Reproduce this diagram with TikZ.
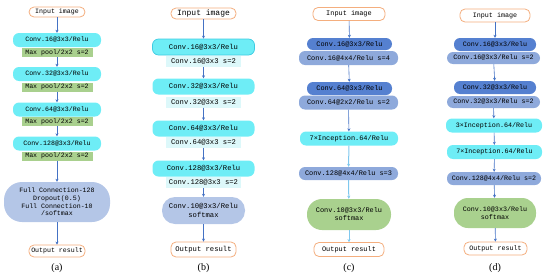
\documentclass[tikz,border=0pt]{standalone}
\usepackage{fontspec}
\setmainfont{Liberation Serif}
\setmonofont{Liberation Mono}
\usetikzlibrary{arrows.meta}
\definecolor{nnCyan}{HTML}{6EEDF6}
\definecolor{nnCyanDk}{HTML}{3CCBE2}
\definecolor{nnCyanLt}{HTML}{DDF8FA}
\definecolor{nnPool}{HTML}{A9D08E}
\definecolor{nnLav}{HTML}{B4C6E7}
\definecolor{nnBlueDk}{HTML}{5580D0}
\definecolor{nnBlueMd}{HTML}{8EA9DB}
\definecolor{nnGreen}{HTML}{A9D18E}
\definecolor{nnOrange}{HTML}{F4AE7E}
\definecolor{nnArrow}{HTML}{4472C4}
\definecolor{nnArrowLt}{HTML}{7FC8EE}

\begin{document}
\begin{tikzpicture}[x=1pt, y=-1pt,
  every node/.style={inner sep=0pt, align=center, font=\ttfamily\fontsize{6.6}{7.6}\selectfont},
  io/.style={draw=nnOrange, line width=0.8pt, fill=white, rounded corners=5pt},
  conv/.style={fill=nnCyan, rounded corners=6pt, minimum height=14pt},
  pool/.style={fill=nnPool, minimum height=9pt},
  stride/.style={fill=nnCyanLt, minimum height=11pt},
  dconv/.style={fill=nnBlueDk, rounded corners=6pt, minimum height=13pt},
  mconv/.style={fill=nnBlueMd, rounded corners=6pt, minimum height=13pt},
  head/.style={rounded corners=13pt},
  flow/.style={-{Stealth[length=3pt,width=3pt]}, draw=nnArrow, line width=0.6pt},
  flowlt/.style={-{Stealth[length=3pt,width=3pt]}, draw=nnArrowLt, line width=1pt},
  tag/.style={font=\rmfamily\fontsize{10}{12}\selectfont},
]
\useasboundingbox (0,0) rectangle (550,279);
% ---- (a) ----
\node[io, minimum width=56, minimum height=10] (a-in) at (57,12){Input image};
\node[conv, minimum width=88] (a-c1) at (57,40){Conv.16@3x3/Relu};
\node[pool, minimum width=71] (a-p1) at (57,52.5){Max pool/2x2 s=2};
\node[conv, minimum width=88] (a-c2) at (57,74){Conv.32@3x3/Relu};
\node[pool, minimum width=71] (a-p2) at (57,87){Max pool/2x2 s=2};
\node[conv, minimum width=88] (a-c3) at (57,109.5){Conv.64@3x3/Relu};
\node[pool, minimum width=71] (a-p3) at (57,121.5){Max pool/2x2 s=2};
\node[conv, minimum width=88] (a-c4) at (57,143.5){Conv.128@3x3/Relu};
\node[pool, minimum width=71] (a-p4) at (57,156){Max pool/2x2 s=2};
\node[fill=nnLav, rounded corners=18pt, minimum width=106, minimum height=40] (a-fc) at (57,202)
  {Full Connection-128\\Dropout(0.5)\\Full Connection-10\\/softmax};
\node[io, minimum width=56, minimum height=12] (a-out) at (57,251){Output result};
\node[tag] (a-tag) at (57,268){(a)};
\foreach \s/\t in {in/c1, p1/c2, p2/c3, p3/c4, p4/fc, fc/out}
  \draw[flow] (a-\s) -- (a-\t);
% ---- (b) ----
\begin{scope}[every node/.append style={font=\ttfamily\fontsize{7.2}{8.4}\selectfont}]
\node[io, minimum width=65, minimum height=11, font=\ttfamily\fontsize{8}{9}\selectfont] (b-in) at (203.5,13.5){Input image};
\node[conv, draw=nnCyanDk, line width=0.7pt, minimum width=102, minimum height=16] (b-c1) at (203.5,47){Conv.16@3x3/Relu};
\node[stride, minimum width=75] (b-s1) at (203.5,61.5){Conv.16@3x3 s=2};
\node[conv, minimum width=102, minimum height=16] (b-c2) at (203.5,86.5){Conv.32@3x3/Relu};
\node[stride, minimum width=75] (b-s2) at (203.5,102){Conv.32@3x3 s=2};
\node[conv, minimum width=102, minimum height=16] (b-c3) at (203.5,128.5){Conv.64@3x3/Relu};
\node[stride, minimum width=75] (b-s3) at (203.5,142.5){Conv.64@3x3 s=2};
\node[conv, minimum width=102, minimum height=16] (b-c4) at (203.5,168.5){Conv.128@3x3/Relu};
\node[stride, minimum width=75] (b-s4) at (203.5,182.5){Conv.128@3x3 s=2};
\node[head, fill=nnLav, minimum width=83, minimum height=27] (b-sm) at (203.5,210.5){Conv.10@3x3/Relu\\softmax};
\node[io, minimum width=65, minimum height=15] (b-out) at (203.5,249.5){Output result};
\end{scope}
\node[tag] (b-tag) at (203.5,268){(b)};
\foreach \s/\t in {in/c1, s1/c2, s2/c3, s3/c4, s4/sm, sm/out}
  \draw[flow] (b-\s) -- (b-\t);
% ---- (c) ----
\begin{scope}[every node/.append style={font=\ttfamily\fontsize{6.9}{8}\selectfont}]
\node[io, minimum width=72, minimum height=13] (c-in) at (349,14){Input image};
\node[dconv, minimum width=85, minimum height=12] (c-c1) at (349.5,44){Conv.16@3x3/Relu};
\node[mconv, minimum width=99, minimum height=14] (c-s1) at (348.5,58){Conv.16@4x4/Relu s=4};
\node[dconv, minimum width=85] (c-c2) at (349.5,88.5){Conv.64@3x3/Relu};
\node[mconv, minimum width=99, minimum height=14] (c-s2) at (348.5,102.5){Conv.64@2x2/Relu s=2};
\node[conv, minimum width=98] (c-inc) at (349,138.5){7×Inception.64/Relu};
\node[mconv, minimum width=99] (c-c128) at (348.5,173.5){Conv.128@4x4/Relu s=3};
\node[head, fill=nnGreen, rounded corners=15pt, minimum width=84, minimum height=31] (c-sm) at (349,214.5){Conv.10@3x3/Relu\\softmax};
\node[io, minimum width=70, minimum height=14] (c-out) at (349,249.5){Output result};
\end{scope}
\node[tag] (c-tag) at (349,268){(c)};
\foreach \s/\t in {in/c1, s1/c2, s2/inc}
  \draw[flow] (c-\s) -- (c-\t);
\foreach \s/\t in {inc/c128, c128/sm, sm/out}
  \draw[flowlt] (c-\s) -- (c-\t);
% ---- (d) ----
\begin{scope}[every node/.append style={font=\ttfamily\fontsize{6.7}{7.8}\selectfont}]
\node[io, minimum width=70, minimum height=13] (d-in) at (495,15.5){Input image};
\node[dconv, minimum width=82] (d-c1) at (495,44.5){Conv.16@3x3/Relu};
\node[mconv, minimum width=93, minimum height=12] (d-s1) at (493.5,58){Conv.16@3x3/Relu s=2};
\node[dconv, minimum width=82] (d-c2) at (495,87.5){Conv.32@3x3/Relu};
\node[mconv, minimum width=93, minimum height=12] (d-s2) at (493.5,102){Conv.32@3x3/Relu s=2};
\node[conv, minimum width=96] (d-i3) at (494,125.5){3×Inception.64/Relu};
\node[conv, minimum width=95] (d-i7) at (494.5,152){7×Inception.64/Relu};
\node[mconv, minimum width=94] (d-c128) at (494,178.5){Conv.128@4x4/Relu s=2};
\node[head, fill=nnGreen, rounded corners=14pt, minimum width=82, minimum height=30] (d-sm) at (495,213){Conv.10@3x3/Relu\\softmax};
\node[io, minimum width=63, minimum height=13] (d-out) at (495.5,248.5){Output result};
\end{scope}
\node[tag] (d-tag) at (495,268){(d)};
\foreach \s/\t in {in/c1, s1/c2, s2/i3, i3/i7, i7/c128, c128/sm, sm/out}
  \draw[flow] (d-\s) -- (d-\t);
\end{tikzpicture}
\end{document}
